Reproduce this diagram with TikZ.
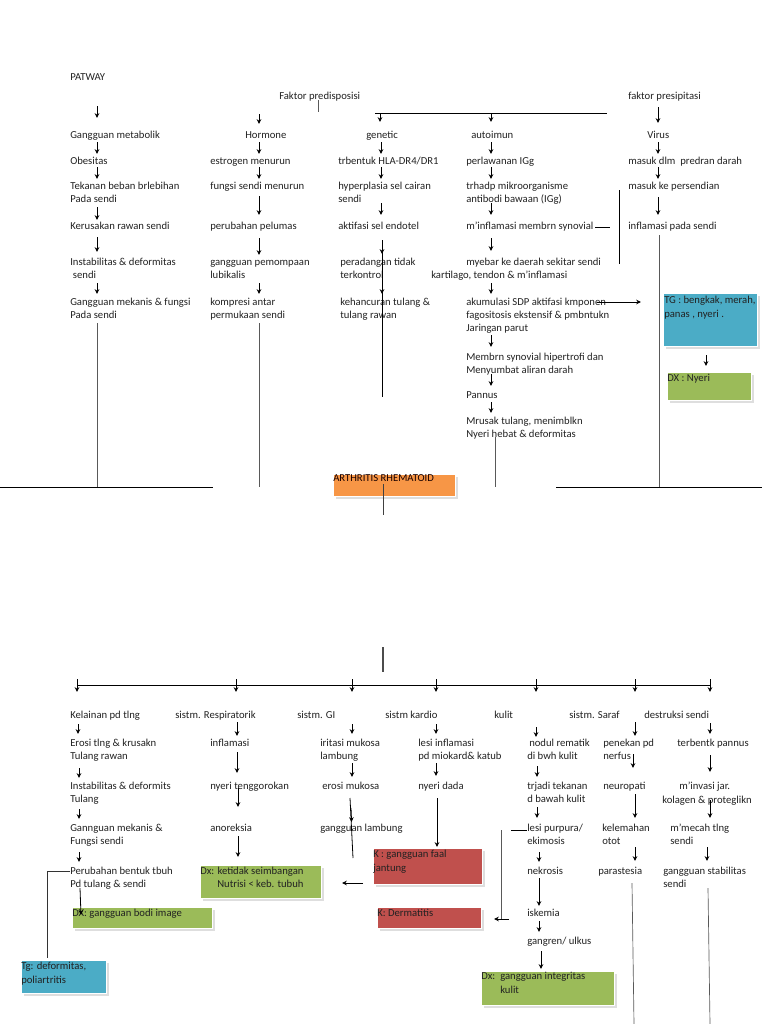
\documentclass[tikz,border=0pt]{standalone}
\usepackage{fontspec}
\setmainfont{Carlito}
\usetikzlibrary{arrows.meta,shadows}
\definecolor{tgblue}{RGB}{75,172,198}
\definecolor{dxgreen}{RGB}{155,187,89}
\definecolor{kred}{RGB}{192,80,77}
\definecolor{raorange}{RGB}{247,150,70}
\definecolor{txt}{RGB}{34,34,34}
\begin{document}
\begin{tikzpicture}[x=0.75pt,y=-0.75pt,
  t/.style={anchor=base west,inner sep=0pt,align=left,text=txt,font=\fontsize{8}{9.75}\selectfont},
  tb/.style={t,font=\fontsize{8}{10.5}\selectfont},
  ar/.style={-{Stealth[length=3.6pt,width=3.4pt]},line width=0.6pt,black},
  ln/.style={line width=0.6pt,black},
  gl/.style={line width=0.5pt,black!65},
  bx/.style={anchor=north west,inner sep=0pt,draw=white,line width=0.8pt,
     drop shadow={shadow xshift=1.5pt,shadow yshift=-1.5pt,fill=black!25}}]
\useasboundingbox[fill=white] (0,0) rectangle (768,1024);

% ---------------- top part ----------------
\node[t] (patway) at (70,80) {PATWAY};
\node[t] (fpre) at (279,99) {Faktor predisposisi};
\node[t] (fpres) at (628,99) {faktor presipitasi};
\draw[gl] (318,100) -- (318,112);
\draw[ln] (375,113) -- (607,113);
\draw[ar] (97,106) -- (97,118);
\draw[ar] (259,114) -- (259,124);
\draw[ar] (380,113) -- (380,122);
\draw[ar] (491,113) -- (491,122);
\draw[ar] (658,107) -- (658,123);

% column 1
\node[t] (c1a) at (70,138) {Gangguan metabolik};
\node[t] (c1b) at (70,164) {Obesitas};
\node[t] (c1c) at (70,202) {Tekanan beban brlebihan\\Pada sendi};
\node[t] (c1d) at (70,229) {Kerusakan rawan sendi};
\node[t] (c1e) at (70,278) {Instabilitas \& deformitas\\\hspace*{2pt}sendi};
\node[t] (c1f) at (70,318) {Gangguan mekanis \& fungsi\\Pada sendi};
\draw[ar] (97,142) -- (97,154);
\draw[ar] (97,167) -- (97,179);
\draw[ar] (97,207) -- (97,220);
\draw[ar] (97,237) -- (97,252);
\draw[ar] (97,283) -- (97,294);
\draw[gl] (97,323) -- (97,487);

% column 2
\node[t] (hormone) at (245,138) {Hormone};
\node[t] (c2b) at (210,164) {estrogen menurun};
\node[t] (c2c) at (210,189) {fungsi sendi menurun};
\node[t] (c2d) at (210,229) {perubahan pelumas};
\node[t] (c2e) at (210,278) {gangguan pemompaan\\lubikalis};
\node[t] (c2f) at (210,318) {kompresi antar\\permukaan sendi};
\draw[ar] (259,142) -- (259,154);
\draw[ar] (259,167) -- (259,179);
\draw[ar] (259,196) -- (259,215);
\draw[ar] (259,238) -- (259,255);
\draw[ar] (259,283) -- (259,294);
\draw[gl] (259,323) -- (259,487);

% column 3
\node[t] (gen) at (366,138) {genetic};
\node[t] (c3b) at (338,164) {trbentuk HLA-DR4/DR1};
\node[t] (c3c) at (338,202) {hyperplasia sel cairan\\sendi};
\node[t] (c3d) at (338,229) {aktifasi sel endotel};
\node[t] (c3e) at (340,278) {peradangan tidak\\terkontrol};
\node[t] (c3f) at (340,318) {kehancuran tulang \&\\tulang rawan};
\draw[ar] (381,142) -- (381,154);
\draw[ar] (381,167) -- (381,179);
\draw[ar] (381,203) -- (381,215);
\draw[ln] (382,240) -- (382,397);
\draw[ar] (382,240) -- (382,254);
\draw[ar] (382,282) -- (382,294);

% column 4
\node[t] (auto) at (471,138) {autoimun};
\node[t] (c4b) at (466,164) {perlawanan IGg};
\node[t] (c4c) at (466,202) {trhadp mikroorganisme\\antibodi bawaan (IGg)};
\node[t] (c4d) at (466,229) {m’inflamasi membrn synovial};
\node[t] (c4e) at (466,265) {myebar ke daerah sekitar sendi};
\node[t] (c4f) at (431,278) {kartilago, tendon \& m’inflamasi};
\node[t] (c4g) at (466,331) {akumulasi SDP aktifasi kmponen\\fagositosis ekstensif \& pmbntukn\\Jaringan parut};
\node[t] (c4h) at (466,373) {Membrn synovial hipertrofi dan\\Menyumbat aliran darah};
\node[t] (c4i) at (466,398) {Pannus};
\node[t] (c4j) at (466,437) {Mrusak tulang, menimblkn\\Nyeri hebat \& deformitas};
\draw[ar] (491,142) -- (491,154);
\draw[ar] (491,167) -- (491,179);
\draw[ar] (491,203) -- (491,215);
\draw[ln] (595,227) -- (610,227);
\draw[ln] (619,190) -- (619,264);
\draw[ar] (491,238) -- (491,251);
\draw[ar] (491,283) -- (491,294);
\draw[ar] (597,302) -- (641,302);
\draw[ar] (491,335) -- (491,347);
\draw[ar] (491,374) -- (491,386);
\draw[ar] (491,402) -- (491,413);
\draw[gl] (495,437) -- (495,487);

% column 5
\node[t] (virus) at (647,138) {Virus};
\node[t] (c5b) at (628,164) {masuk dlm\ \ predran darah};
\node[t] (c5c) at (628,189) {masuk ke persendian};
\node[t] (c5d) at (628,229) {inflamasi pada sendi};
\draw[ar] (658,142) -- (658,154);
\draw[ar] (658,167) -- (658,179);
\draw[ar] (658,197) -- (658,215);
\draw[gl] (659,235) -- (659,487);

\node[bx,fill=tgblue,minimum width=70.5pt,minimum height=39.75pt] (tg) at (663,293) {};
\node[tb] (tgt) at (664,317) {TG : bengkak, merah,\\panas , nyeri .};
\draw[ar] (706,355) -- (706,366);
\node[bx,fill=dxgreen,minimum width=63pt,minimum height=21pt] (dxn) at (667,372) {};
\node[tb] (dxnt) at (667,381) {DX : Nyeri};

\draw[ln] (0,487) -- (213,487);
\draw[ln] (556,487) -- (762,487);

\node[bx,fill=raorange,minimum width=91.5pt,minimum height=16.5pt] (ra) at (333,474) {};
\node[t,text=black!90!red] (rat) at (333,481) {ARTHRITIS RHEMATOID};
\draw[line width=0.7pt,black!75] (383,484) -- (383,515);
\draw[line width=1pt,black!70] (383,647) -- (383,672);

% ---------------- bottom part ----------------
\draw[ln] (77,685) -- (710,685);
\foreach \xx in {77,236,352,436,536,635,710}
  \draw[ar] (\xx,679) -- (\xx,692);

\node[t] (l1) at (70,718) {Kelainan pd tlng};
\node[t] (l2) at (175,718) {sistm. Respiratorik};
\node[t] (l3) at (297,718) {sistm. GI};
\node[t] (l4) at (385,718) {sistm kardio};
\node[t] (l5) at (494,718) {kulit};
\node[t] (l6) at (569,718) {sistm. Saraf};
\node[t] (l7) at (644,718) {destruksi sendi};

% L1
\node[t] (l1b) at (70,759) {Erosi tlng \& krusakn\\Tulang rawan};
\node[t] (l1c) at (70,802) {Instabilitas \& deformits\\Tulang};
\node[t] (l1d) at (70,844) {Gannguan mekanis \&\\Fungsi sendi};
\node[t] (l1e) at (70,887) {Perubahan bentuk tbuh\\Pd tulang \& sendi};
\draw[ar] (78,724) -- (78,734);
\draw[ar] (79,768) -- (79,778);
\draw[ar] (79,809) -- (79,819);
\draw[ar] (79,852) -- (79,862);
\draw[line width=0.6pt,black!80] (70,871) -- (47,871) -- (47,958);
\node[bx,fill=dxgreen,minimum width=105pt,minimum height=15.75pt] (dxb) at (72,907) {};
\node[tb] (dxbt) at (72,916) {DX: gangguan bodi image};
\draw[ar] (80,888) -- (81,915);
\node[bx,fill=tgblue,minimum width=63.75pt,minimum height=24.75pt] (tgd) at (21,960) {};
\node[tb] (tgdt) at (21,983) {Tg: deformitas,\\poliartritis};

% L2
\node[t] (l2b) at (210,746) {inflamasi};
\node[t] (l2c) at (210,789) {nyeri tenggorokan};
\node[t] (l2d) at (210,831) {anoreksia};
\draw[ar] (237,722) -- (237,736);
\draw[ar] (237,752) -- (237,773);
\draw[ar] (238,788) -- (238,807);
\draw[ar] (238,836) -- (238,857);
\node[bx,fill=dxgreen,minimum width=90.75pt,minimum height=24.75pt] (dxk) at (200,865) {};
\node[tb] (dxkt) at (200,874) {Dx: ketidak seimbangan};
\node[tb] (dxkt2) at (217,887) {Nutrisi < keb. tubuh};

% L3
\node[t] (l3b) at (320,759) {iritasi mukosa\\lambung};
\node[t] (l3c) at (322,789) {erosi mukosa};
\node[t] (l3d) at (320,831) {gangguan lambung};
\draw[ar] (352,724) -- (352,734);
\draw[ar] (352,763) -- (352,777);
\draw[ln] (350,798) -- (353,858);
\draw[ar] (351,808) -- (351.6,822);
\draw[ar] (363,883) -- (342,883);

% L4
\node[t] (l4b) at (418,759) {lesi inflamasi\\pd miokard\& katub};
\node[t] (l4c) at (418,789) {nyeri dada};
\draw[ar] (436,724) -- (436,734);
\draw[ar] (436,763) -- (436,776);
\draw[ar] (437,798) -- (437,847);
\node[bx,fill=kred,minimum width=81.75pt,minimum height=27pt] (kf) at (373,848) {};
\node[tb] (kft) at (373,871) {K : gangguan faal\\jantung};
\node[bx,fill=kred,minimum width=78pt,minimum height=15.75pt] (kd) at (377,907) {};
\node[tb] (kdt) at (377,916) {K: Dermatitis};
\draw[ln] (527,830) -- (511,830);
\draw[line width=0.6pt,black!65] (501,830) -- (501,919);
\draw[ar] (509,919) -- (494,919);

% L5
\node[t] (l5b) at (527,759) {\hspace*{1.5pt}nodul rematik\\di bwh kulit};
\node[t] (l5c) at (527,802) {trjadi tekanan\\d bawah kulit};
\node[t] (l5d) at (527,844) {lesi purpura/\\ekimosis};
\node[t] (l5e) at (527,874) {nekrosis};
\node[t] (l5f) at (527,916) {iskemia};
\node[t] (l5g) at (527,944) {gangren/ ulkus};
\draw[ar] (536,727) -- (536,737);
\draw[ar] (537,766) -- (537,777);
\draw[ar] (537,807) -- (537,818);
\draw[ar] (539,852) -- (539,862);
\draw[ar] (539,878) -- (539,906);
\draw[ar] (539,921) -- (539,932);
\draw[ar] (541,951) -- (541,969);
\node[bx,fill=dxgreen,minimum width=99.75pt,minimum height=25.5pt] (dxi) at (481,971) {};
\node[tb] (dxit) at (481,979) {Dx:};
\node[tb] (dxit2) at (500,993) {gangguan integritas\\kulit};

% L6
\node[t] (l6b) at (603,759) {penekan pd\\nerfus};
\node[t] (l6c) at (603,789) {neuropati};
\node[t] (l6d) at (602,844) {kelemahan\\otot};
\node[t] (l6e) at (598,874) {parastesia};
\draw[ar] (635,722) -- (635,736);
\draw[ar] (633,754) -- (633,768);
\draw[ar] (635,794) -- (635,818);
\draw[ar] (635,847) -- (635,861);
\draw[gl] (632,883) -- (634,1024);

% L7
\node[t] (l7b) at (677,746) {terbentk pannus};
\node[t] (l7c) at (679,789) {m’invasi jar.};
\node[t] (l7c2) at (662,803) {kolagen \& proteglikn};
\node[t] (l7d) at (670,844) {m’mecah tlng\\sendi};
\node[t] (l7e) at (663,887) {gangguan stabilitas\\sendi};
\draw[ar] (710,723) -- (710,734);
\draw[ar] (710,755) -- (710,772);
\draw[ar] (710,800) -- (710,818);
\draw[ar] (707,847) -- (707,861);
\draw[gl] (708,888) -- (710,1024);
\end{tikzpicture}
\end{document}
